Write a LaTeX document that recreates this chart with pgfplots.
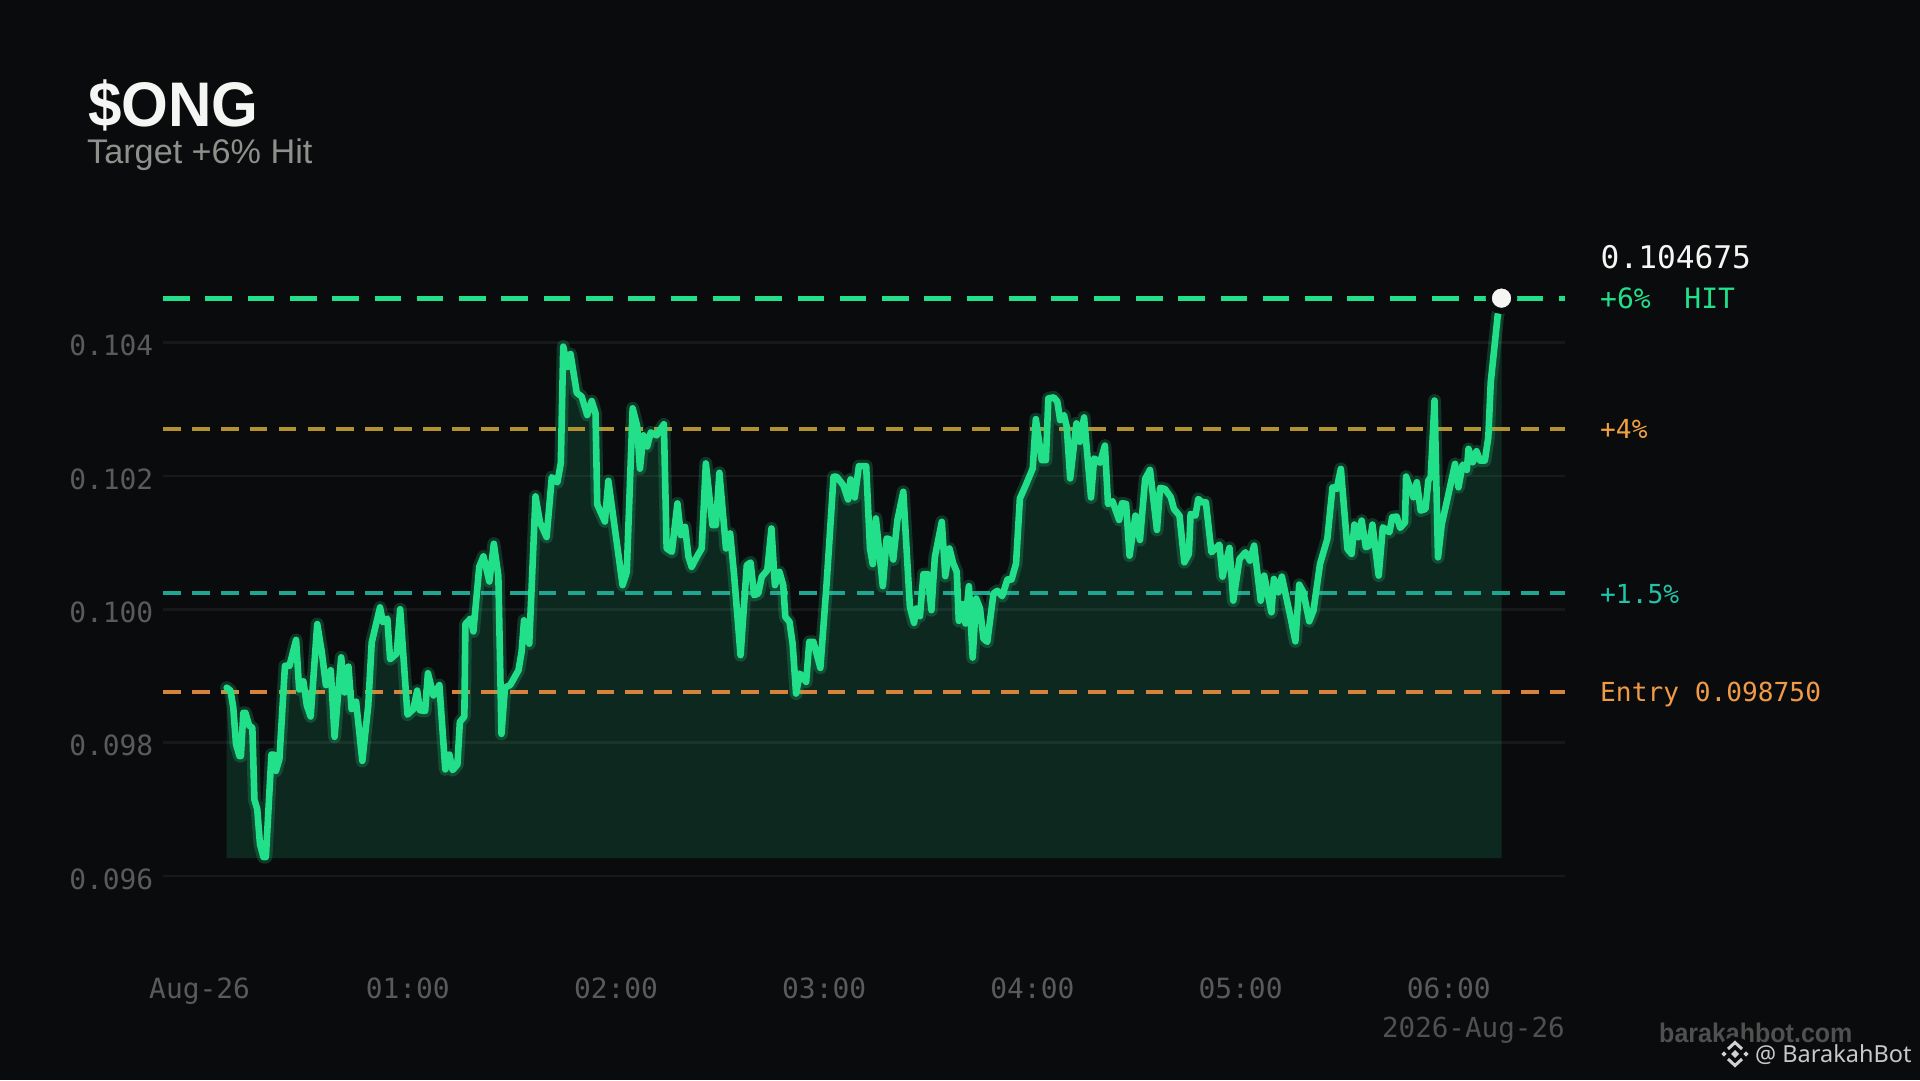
\documentclass[border=0pt]{standalone}
\usepackage{pgfplots}
\usepackage{pgfplotstable}
\usepackage{fontspec}
\pgfplotsset{compat=1.18}
\setmainfont{Liberation Sans}
\newfontfamily\monof{DejaVu Sans Mono}
\newfontfamily\notof{Noto Sans}
\definecolor{bg}{HTML}{0A0B0D}
\definecolor{grn}{HTML}{22E08A}
\definecolor{gridc}{HTML}{17181B}
\definecolor{tickc}{HTML}{5A5A5A}
\definecolor{fourl}{HTML}{B29230}
\definecolor{teall}{HTML}{20A591}
\definecolor{entryl}{HTML}{D8833C}
\definecolor{fourt}{HTML}{F0A040}
\definecolor{tealt}{HTML}{22C4A8}
\definecolor{entryt}{HTML}{F09A48}
\definecolor{offw}{HTML}{F5F5F3}
\pgfplotstableread{
t p
7.8 0.098825
8.9 0.098781
9.7 0.098531
10.5 0.097977
11.5 0.097799
11.9 0.097799
12.6 0.098448
13.2 0.098448
14.3 0.098254
15.2 0.098226
15.8 0.097145
16.6 0.097006
17.4 0.096479
18.4 0.096285
19.1 0.096285
20.7 0.097822
21.4 0.097822
22.0 0.097577
23.0 0.097755
24.6 0.099153
25.9 0.099153
27.8 0.099541
28.7 0.098798
29.9 0.098920
30.9 0.098559
32.0 0.098393
33.9 0.099779
35.2 0.099363
36.4 0.098864
37.8 0.099086
38.9 0.098088
40.8 0.099280
41.8 0.098753
42.9 0.099141
43.8 0.098504
45.1 0.098615
46.9 0.097727
48.6 0.098559
49.6 0.099502
52.0 0.100029
52.8 0.099807
54.1 0.099862
54.9 0.099252
56.8 0.099336
57.8 0.100001
59.9 0.098420
61.6 0.098504
62.7 0.098781
63.5 0.098487
65.0 0.098476
65.8 0.099042
67.4 0.098709
69.1 0.098864
70.8 0.097600
72.0 0.097822
72.9 0.097589
74.3 0.097672
75.0 0.098310
76.3 0.098393
76.6 0.099779
78.1 0.099862
78.9 0.099668
80.6 0.100639
81.8 0.100794
83.5 0.100417
84.8 0.100983
86.1 0.100500
87.0 0.098132
88.0 0.098825
89.5 0.098864
91.9 0.099086
92.8 0.099363
93.5 0.099835
95.0 0.099485
96.8 0.101693
98.1 0.101304
100.0 0.101083
101.5 0.101981
103.1 0.101903
104.1 0.102192
104.8 0.103939
106.0 0.103634
106.9 0.103828
108.7 0.103245
110.1 0.103190
111.7 0.102913
113.0 0.103123
114.1 0.102940
114.6 0.101571
116.8 0.101316
117.8 0.101926
121.9 0.100362
123.1 0.100556
124.8 0.103013
126.1 0.102746
126.9 0.102109
127.9 0.102608
129.0 0.102441
130.0 0.102652
131.7 0.102608
133.8 0.102774
134.6 0.100912
136.1 0.100862
137.7 0.101587
138.7 0.101112
139.9 0.101237
140.9 0.100787
141.8 0.100637
143.3 0.100787
144.7 0.100912
145.9 0.102187
147.8 0.101262
148.8 0.101262
149.8 0.102047
151.7 0.100912
152.9 0.101137
154.0 0.100537
155.9 0.099312
157.7 0.100662
158.8 0.100702
159.8 0.100212
161.0 0.100237
162.0 0.100487
163.6 0.100587
164.8 0.101212
165.8 0.100362
167.1 0.100562
168.2 0.100362
168.8 0.099887
170.0 0.099812
170.9 0.099487
171.9 0.098737
173.0 0.099037
174.8 0.098912
175.7 0.099512
176.9 0.099512
178.9 0.099122
180.7 0.100387
182.7 0.101987
183.6 0.101987
185.5 0.101862
186.9 0.101647
187.6 0.101947
188.8 0.101677
190.0 0.102147
192.1 0.102147
193.2 0.100912
194.0 0.100677
194.9 0.101362
196.9 0.100347
198.0 0.101062
199.0 0.101047
199.9 0.100747
201.1 0.101337
202.8 0.101762
204.7 0.100037
205.9 0.099797
206.5 0.100012
207.6 0.099897
208.6 0.100527
209.9 0.100527
210.9 0.099987
211.9 0.100787
213.9 0.101312
214.9 0.100497
216.1 0.100912
217.2 0.100687
218.2 0.100562
218.8 0.099827
219.9 0.100077
220.7 0.099787
221.7 0.100347
222.8 0.099277
223.8 0.100162
224.9 0.100012
225.9 0.099562
227.0 0.099512
228.8 0.100237
229.9 0.100277
231.3 0.100197
232.8 0.100447
234.0 0.100447
235.3 0.100687
236.4 0.101662
237.9 0.101837
240.1 0.102112
241.0 0.102852
242.7 0.102237
243.9 0.102237
244.6 0.103162
246.2 0.103177
247.2 0.103112
248.0 0.102837
249.1 0.102912
249.9 0.102737
250.9 0.101962
252.7 0.102787
253.7 0.102512
254.9 0.102877
256.9 0.101677
257.8 0.102262
259.5 0.102197
260.9 0.102455
261.8 0.101580
263.1 0.101620
265.0 0.101340
265.8 0.101590
267.0 0.101580
268.0 0.100805
269.7 0.101405
271.0 0.101040
272.5 0.101955
273.9 0.102090
275.9 0.101190
276.8 0.101820
278.2 0.101805
279.9 0.101680
280.8 0.101505
282.4 0.101405
283.8 0.100705
285.1 0.100830
285.6 0.101430
287.0 0.101405
287.8 0.101655
288.8 0.101605
290.0 0.101605
291.6 0.100855
293.9 0.100970
294.8 0.100490
296.8 0.100920
297.9 0.100130
299.7 0.100755
301.4 0.100855
302.7 0.100730
303.9 0.100955
305.8 0.100130
306.8 0.100505
308.9 0.099955
309.6 0.100455
310.9 0.100255
311.9 0.100490
314.3 0.099905
315.8 0.099520
316.9 0.100370
318.1 0.100255
319.8 0.099820
321.0 0.099980
322.9 0.100680
325.0 0.101055
326.5 0.101830
327.7 0.101805
328.9 0.102105
330.8 0.100905
332.0 0.100830
332.8 0.101270
333.9 0.101080
334.9 0.101330
336.1 0.100930
337.1 0.100955
338.0 0.101270
339.8 0.100505
341.0 0.101230
342.9 0.101155
343.7 0.101380
345.0 0.101390
346.0 0.101220
347.4 0.101305
347.7 0.101990
349.8 0.101680
350.8 0.101905
351.9 0.101480
353.3 0.101505
354.1 0.101930
354.8 0.101980
355.9 0.103130
356.9 0.100780
358.0 0.101280
359.4 0.101605
361.8 0.102180
362.8 0.101830
364.0 0.102170
365.2 0.102090
365.7 0.102405
366.9 0.102205
368.0 0.102370
369.0 0.102230
370.4 0.102230
371.4 0.102580
372.1 0.103405
374.1 0.104405
375.2 0.104665
}\series
\begin{document}
\begin{tikzpicture}[x=1pt,y=1pt]
\path[use as bounding box,fill=bg] (0,0) rectangle (1920,1080);
\begin{axis}[
  at={(163pt,130pt)},anchor=south west,
  scale only axis,width=1402pt,height=700pt,
  xmin=-10.55,xmax=393.5,ymin=0.094892,ymax=0.105387,
  clip=false,
  axis line style={draw=none},
  major tick length=0pt,
  tick style={draw=none},
  ymajorgrids,
  major grid style={draw=gridc,line width=2.7pt},
  xtick={0,60,120,180,240,300,360},
  xticklabels={Aug-26,01:00,02:00,03:00,04:00,05:00,06:00},
  ytick={0.096,0.098,0.100,0.102,0.104},
  yticklabels={0.096,0.098,0.100,0.102,0.104},
  scaled y ticks=false,
  xticklabel style={font=\monof\fontsize{27.9pt}{30pt}\selectfont,text=tickc,anchor=base,inner sep=0pt,yshift=-48pt},
  yticklabel style={font=\monof\fontsize{27.9pt}{30pt}\selectfont,text=tickc,anchor=east,inner sep=0pt,xshift=-9.5pt,yshift=-3pt},
]
\addplot[draw=none,fill=grn,fill opacity=0.145] table[x=t,y=p] {\series} -- (axis cs:375.2,0.09627) -- (axis cs:7.8,0.09627) -- cycle;
\addplot[fourl,line width=3.8pt,dash pattern=on 17.7pt off 11.2pt] coordinates {(-10.55,0.1027)(393.5,0.1027)};
\addplot[teall,line width=3.8pt,dash pattern=on 17.7pt off 11.2pt] coordinates {(-10.55,0.100245)(393.5,0.100245)};
\addplot[entryl,line width=3.8pt,dash pattern=on 17.7pt off 11.2pt] coordinates {(-10.55,0.098765)(393.5,0.098765)};
\addplot[grn,line width=5pt,dash pattern=on 26.6pt off 15.7pt] coordinates {(-10.55,0.104665)(393.5,0.104665)};
\addplot[grn,opacity=0.2,line width=13pt,line join=round,line cap=round] table[x=t,y=p] {\series};
\addplot[grn,line width=6.6pt,line join=round,line cap=round] table[x=t,y=p] {\series};
\addplot[only marks,mark=*,mark size=12.8pt,mark options={fill=offw,draw=bg,line width=6pt}] coordinates {(375.2,0.104665)};
\end{axis}
% titles
\node[anchor=base west,inner sep=0pt,text=offw] at (88,953.5) {\scalebox{0.955}[1]{\fontsize{63pt}{66pt}\selectfont\bfseries \$ONG}};
\node[anchor=base west,inner sep=0pt] at (87,916) {\fontsize{34.2pt}{36pt}\selectfont \textcolor[HTML]{8F8F8B}{Target +6\% Hit}};
% right labels
\node[anchor=base west,inner sep=0pt,text=offw] at (1600.5,811.5) {\monof\fontsize{31.2pt}{34pt}\selectfont 0.104675};
\node[anchor=base west,inner sep=0pt,text=grn] at (1600,771) {\monof\fontsize{28pt}{30pt}\selectfont +6\%\ \ HIT};
\node[anchor=base west,inner sep=0pt,text=fourt] at (1600,641) {\monof\fontsize{26.2pt}{30pt}\selectfont +4\%};
\node[anchor=base west,inner sep=0pt,text=tealt] at (1600,476.5) {\monof\fontsize{26.2pt}{30pt}\selectfont +1.5\%};
\node[anchor=base west,inner sep=0pt,text=entryt] at (1600,378) {\monof\fontsize{26.2pt}{30pt}\selectfont Entry 0.098750};
% footer
\node[anchor=base east,inner sep=0pt] at (1565,43) {\monof\fontsize{27.6pt}{30pt}\selectfont\textcolor[HTML]{505050}{2026-Aug-26}};
\node[anchor=base west,inner sep=0pt] at (1659,38) {\fontsize{26.9pt}{30pt}\selectfont\bfseries\textcolor[HTML]{505050}{\scalebox{0.93}[1]{barakahbot.com}}};
\fill[bg] (1735,26) circle (17);
\begin{scope}[shift={(1735,26)},fill=white!82!black,draw=white!82!black]
\fill (0,-4) -- (4,0) -- (0,4) -- (-4,0) -- cycle;
\fill (-11,-2.6) -- (-8.4,0) -- (-11,2.6) -- (-13.6,0) -- cycle;
\fill (11,-2.6) -- (13.6,0) -- (11,2.6) -- (8.4,0) -- cycle;
\draw[line width=3pt] (-7,5) -- (0,11.5) -- (7,5);
\draw[line width=3pt] (-7,-5) -- (0,-11.5) -- (7,-5);
\end{scope}
\node[anchor=base west,inner sep=0pt] at (1755,18) {\notof\fontsize{23.5pt}{26pt}\selectfont\textcolor[HTML]{C8C8C8}{@ BarakahBot}};
\end{tikzpicture}
\end{document}
